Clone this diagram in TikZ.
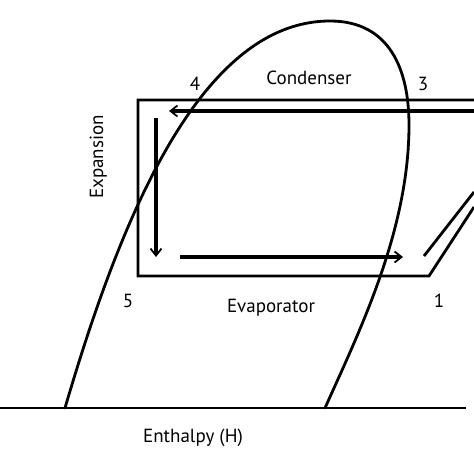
\documentclass[tikz,border=0pt]{standalone}
\usepackage{fontspec}
\setmainfont{PT Sans}
\usetikzlibrary{arrows.meta}

\begin{document}
\begin{tikzpicture}[x=1pt,y=-1pt,line join=miter]

% parameters
\def\wline{2.8pt}    % outline width
\def\wflow{3.6pt}    % flow arrow width
\def\fs{19}          % label font size

\tikzset{
  lbl/.style={font=\fontsize{\fs}{\fs}\selectfont, inner sep=0pt, anchor=base},
  flow/.style={line width=\wflow, -{Straight Barb[line width=1.8pt,length=7pt,width=11pt]}},
  outline/.style={line width=\wline},
}

\useasboundingbox (0,0) rectangle (474,474);

% enthalpy axis
\coordinate (h0) at (0,408);
\coordinate (h1) at (466,408);
\draw[outline] (h0) -- (h1);

% saturation dome (left foot -> peak -> right foot)
\coordinate (dl) at (65,408);
\coordinate (dt) at (330,21);
\coordinate (dm) at (409,125);
\coordinate (dr) at (325,408);
\draw[outline,line cap=round] (dl) .. controls (120,220) and (200,21) .. (dt)
  .. controls (390,21) and (409,70) .. (dm)
  .. controls (409,230) and (360,330) .. (dr);

% cycle outline
\coordinate (tr) at (474,100);
\coordinate (tl) at (138,100);
\coordinate (bl) at (138,276);
\coordinate (br) at (429,276);
\coordinate (rd) at (474,207);
\coordinate (cs) at (424,256);
\coordinate (ce) at (474,192);
\draw[outline] (tr) -- (tl) -- (bl) -- (br) -- (rd);
\draw[outline] (cs) -- (ce);

% flow arrows
\coordinate (c0) at (474,111);
\coordinate (c1) at (169,111);
\coordinate (x0) at (156,118);
\coordinate (x1) at (156,257);
\coordinate (e0) at (180,257);
\coordinate (e1) at (403,257);
\draw[flow] (c0) -- (c1);
\draw[flow] (x0) -- (x1);
\draw[flow] (e0) -- (e1);

% labels
\node[lbl] (n4) at (195,90) {4};
\node[lbl] (n3) at (423,90) {3};
\node[lbl] (cond) at (309,84) {Condenser};
\node[lbl,rotate=90] (expn) at (103,157) {Expansion};
\node[lbl] (n5) at (128,307) {5};
\node[lbl] (evap) at (271,312) {Evaporator};
\node[lbl] (n1) at (439,307) {1};
\node[lbl] (enth) at (193,442) {Enthalpy (H)};

\end{tikzpicture}
\end{document}
